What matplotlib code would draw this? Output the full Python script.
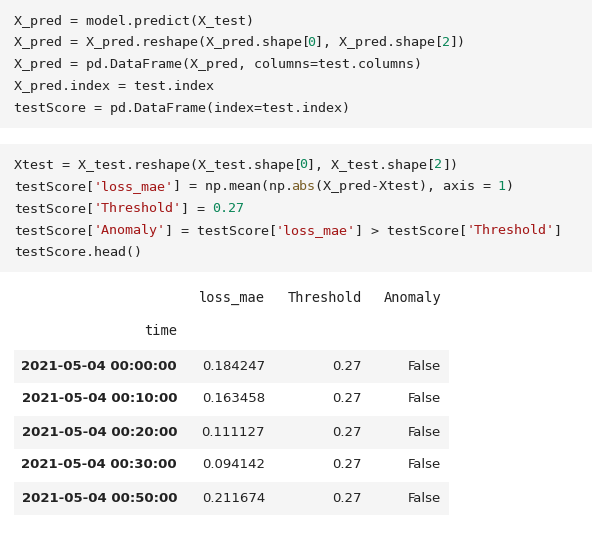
import matplotlib
matplotlib.use("Agg")
import matplotlib.pyplot as plt
from matplotlib.patches import Rectangle

code1 = [
    [("X_pred = model.predict(X_test)", "#222")],
    [("X_pred = X_pred.reshape(X_pred.shape[", "#222"), ("0", "#098658"), ("], X_pred.shape[", "#222"), ("2", "#098658"), ("])", "#222")],
    [("X_pred = pd.DataFrame(X_pred, columns=test.columns)", "#222")],
    [("X_pred.index = test.index", "#222")],
    [("testScore = pd.DataFrame(index=test.index)", "#222")],
]
code2 = [
    [("Xtest = X_test.reshape(X_test.shape[", "#222"), ("0", "#098658"), ("], X_test.shape[", "#222"), ("2", "#098658"), ("])", "#222")],
    [("testScore[", "#222"), ("'loss_mae'", "#a31515"), ("] = np.mean(np.", "#222"), ("abs", "#795e26"), ("(X_pred-Xtest), axis = ", "#222"), ("1", "#098658"), (")", "#222")],
    [("testScore[", "#222"), ("'Threshold'", "#a31515"), ("] = ", "#222"), ("0.27", "#098658")],
    [("testScore[", "#222"), ("'Anomaly'", "#a31515"), ("] = testScore[", "#222"), ("'loss_mae'", "#a31515"), ("] > testScore[", "#222"), ("'Threshold'", "#a31515"), ("]", "#222")],
    [("testScore.head()", "#222")],
]
columns = ["loss_mae", "Threshold", "Anomaly"]
index_name = "time"
times = ["2021-05-04 00:00:00", "2021-05-04 00:10:00", "2021-05-04 00:20:00",
         "2021-05-04 00:30:00", "2021-05-04 00:50:00"]
loss_mae = ["0.184247", "0.163458", "0.111127", "0.094142", "0.211674"]
threshold = ["0.27"] * 5
anomaly = ["False"] * 5

W, H = 592, 534
fig = plt.figure(figsize=(W / 100, H / 100), dpi=100)
ax = fig.add_axes([0, 0, 1, 1])
ax.set_xlim(0, W); ax.set_ylim(H, 0); ax.axis("off")

CW = 7.93
def draw_code(lines, y0, top, bottom):
    ax.add_patch(Rectangle((0, top), W, bottom - top, color="#f5f5f5", lw=0))
    for i, segs in enumerate(lines):
        x = 14
        for s, c in segs:
            ax.text(x, y0 + i * 21.8, s, family="DejaVu Sans Mono", fontsize=9.6,
                    color=c, va="center", ha="left")
            x += len(s) * CW

draw_code(code1, 21, 0, 128)
draw_code(code2, 165, 144, 272)

xs = [265, 362, 441]
for x, c in zip(xs, columns):
    ax.text(x, 298, c, ha="right", va="center", family="DejaVu Sans Mono",
            fontsize=9.8, color="#222")
ax.text(177, 331, index_name, ha="right", va="center", family="DejaVu Sans Mono",
        fontsize=9.8, color="#222")
for i in range(5):
    y = 366 + i * 33
    if i % 2 == 0:
        ax.add_patch(Rectangle((14, y - 16.5), 435, 33, color="#f5f5f5", lw=0))
    ax.text(177, y, times[i], ha="right", va="center", fontsize=9.5, fontweight="bold", color="#222")
    for x, v in zip(xs, [loss_mae[i], threshold[i], anomaly[i]]):
        ax.text(x, y, v, ha="right", va="center", fontsize=9.5, color="#222")

fig.savefig("out.png", dpi=100, facecolor="white")
